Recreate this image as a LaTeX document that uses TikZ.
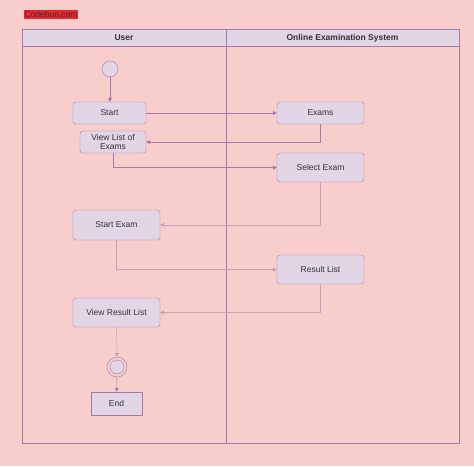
\documentclass[tikz,border=0pt]{standalone}
\usepackage{fontspec}
\setmainfont{Liberation Sans}
\usepackage{xcolor}
\usetikzlibrary{positioning,calc,arrows.meta}
\definecolor{bgpink}{HTML}{F8CECC}
\definecolor{lane}{HTML}{E2D5E6}
\definecolor{edge}{HTML}{A47BA8}
\definecolor{edgelight}{HTML}{CC9EBA}
\definecolor{ink}{HTML}{333333}
\definecolor{brandred}{HTML}{EC2430}

\begin{document}
\begin{tikzpicture}[x=1pt, y=-1pt,
    action/.style={draw=edge, fill=lane, rounded corners=3pt, text=ink, font=\fontsize{8.5}{9.5}\selectfont, align=center, inner sep=1pt},
    flow/.style={draw=edge, -{Triangle[length=4pt,width=4pt]}},
    flowlight/.style={draw=edgelight, -{Triangle[length=4pt,width=4pt]}}]
    % Background
    \fill[bgpink] (0,0) rectangle (474,466);
    \useasboundingbox (0,0) rectangle (474,466);
    \node[fill=brandred, text=ink, inner sep=1pt, font=\fontsize{8.5}{9}\selectfont] (brand) at (51,14.5) {Codebun.com};

    % Swimlanes
    \draw[edge, fill=lane] (22,29) rectangle (459,46);
    \draw[edge] (22,46) rectangle (459,443);
    \draw[edge] (226,29) -- (226,443);
    \node[text=ink, font=\bfseries\fontsize{8.5}{9}\selectfont] (user) at (124,38) {User};
    \node[text=ink, font=\bfseries\fontsize{8.5}{9}\selectfont] (system) at (342.5,38) {Online Examination System};

    % User lane
    \node[circle, draw=edge, fill=lane, minimum size=16pt, inner sep=0pt] (init) at (110,69) {};
    \node[action, minimum width=73pt, minimum height=22pt] (start) at (109.5,113) {Start};
    \node[action, minimum width=66pt, minimum height=22pt] (viewlist) at (113,142) {View List of\\Exams};
    \node[action, minimum width=87pt, minimum height=30pt] (startexam) at (116.5,225) {Start Exam};
    \node[action, minimum width=87pt, minimum height=29pt] (viewresult) at (116.5,312.5) {View Result List};
    \node[circle, draw=edge, minimum size=20pt, inner sep=0pt] (final) at (117,367) {};
    \node[circle, draw=edge, fill=lane, minimum size=14pt, inner sep=0pt] (finalin) at (final.center) {};
    \node[draw=edge, fill=lane, text=ink, minimum width=51pt, minimum height=23pt, font=\fontsize{8.5}{9.5}\selectfont] (end) at (116.5,403.5) {End};

    % System lane
    \node[action, minimum width=87pt, minimum height=22pt] (exams) at (320.5,113) {Exams};
    \node[action, minimum width=87pt, minimum height=29pt] (select) at (320.5,167.5) {Select Exam};
    \node[action, minimum width=87pt, minimum height=29pt] (result) at (320.5,269.5) {Result List};

    % Flow
    \draw[flow] (init) -- (init |- start.north);
    \draw[flow] (start) -- (exams);
    \draw[flow] (exams.south) |- (viewlist.east);
    \draw[flow] (viewlist.south) |- (select.west);
    \draw[flowlight] (select.south) |- (startexam.east);
    \draw[flowlight] (startexam.south) |- (result.west);
    \draw[flowlight] (result.south) |- (viewresult.east);
    \draw[flowlight] (viewresult) -- (final);
    \draw[flow] (final) -- (end);
\end{tikzpicture}
\end{document}
